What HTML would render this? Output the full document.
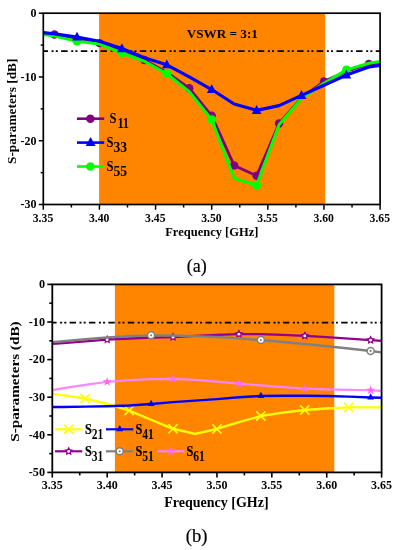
<!DOCTYPE html>
<html><head><meta charset="utf-8"><title>S-parameters</title>
<style>html,body{margin:0;padding:0;background:#fff}svg{display:block}text{font-family:"Liberation Serif",serif;fill:#000}</style>
</head><body>
<svg width="397" height="550" viewBox="0 0 397 550">
<rect x="0" y="0" width="397" height="550" fill="#fff"/>
<rect x="99.1" y="13.2" width="226.1" height="191.3" fill="#ff8400"/>
<line x1="43.3" y1="51.11" x2="380.1" y2="51.11" stroke="#000" stroke-width="1.7" stroke-dasharray="6.5 3.6 2 2.2 2 3.36" stroke-dashoffset="1.8"/>
<polyline points="43.3,32.91 54.53,34.5 76.98,38.33 99.43,43.11 121.89,50.44 144.34,60.01 166.79,72.44 189.25,88.25 211.7,115.8 234.15,165.41 256.61,175.74 279.06,123.45 301.51,97.95 323.97,81.37 346.42,71.48 368.87,64.02 380.1,63.39" fill="none" stroke="#800080" stroke-width="2.8" stroke-linejoin="round"/>
<circle cx="54.53" cy="34.5" r="4.2" fill="#800080"/>
<circle cx="99.43" cy="43.11" r="4.2" fill="#800080"/>
<circle cx="144.34" cy="60.01" r="4.2" fill="#800080"/>
<circle cx="189.25" cy="88.25" r="4.2" fill="#800080"/>
<circle cx="211.7" cy="115.8" r="4.2" fill="#800080"/>
<circle cx="234.15" cy="165.41" r="4.2" fill="#800080"/>
<circle cx="256.61" cy="175.74" r="4.2" fill="#800080"/>
<circle cx="279.06" cy="123.45" r="4.2" fill="#800080"/>
<circle cx="323.97" cy="81.37" r="4.2" fill="#800080"/>
<circle cx="368.87" cy="64.02" r="4.2" fill="#800080"/>
<polyline points="43.3,34.5 54.53,36.09 76.98,41.2 99.43,44.06 121.89,52.99 144.34,61.28 166.79,73.72 189.25,91.57 211.7,119.63 234.15,178.42 256.61,185.31 279.06,124.73 301.51,98.59 323.97,83.28 346.42,69.89 368.87,63.19 380.1,61.6" fill="none" stroke="#00ff00" stroke-width="3.0" stroke-linejoin="round"/>
<circle cx="76.98" cy="41.2" r="4.4" fill="#00ff00"/>
<circle cx="121.89" cy="52.99" r="4.4" fill="#00ff00"/>
<circle cx="166.79" cy="73.72" r="4.4" fill="#00ff00"/>
<circle cx="211.7" cy="119.63" r="4.4" fill="#00ff00"/>
<circle cx="256.61" cy="185.31" r="4.4" fill="#00ff00"/>
<circle cx="346.42" cy="69.89" r="4.4" fill="#00ff00"/>
<polyline points="43.3,32.59 54.53,33.86 76.98,37.05 99.43,41.2 121.89,48.59 144.34,57.77 166.79,64.79 189.25,76.9 211.7,89.53 234.15,104.01 256.61,110.38 279.06,105.6 301.51,95.4 323.97,85.19 346.42,74.99 368.87,67.02 380.1,65.43" fill="none" stroke="#0000ff" stroke-width="3.2" stroke-linejoin="round"/>
<polygon points="76.98,31.72 72.18,40.6 81.78,40.6" fill="#0000ff"/>
<polygon points="121.89,43.26 117.09,52.14 126.69,52.14" fill="#0000ff"/>
<polygon points="166.79,59.46 161.99,68.34 171.59,68.34" fill="#0000ff"/>
<polygon points="211.7,84.2 206.9,93.08 216.5,93.08" fill="#0000ff"/>
<polygon points="256.61,105.05 251.81,113.93 261.41,113.93" fill="#0000ff"/>
<polygon points="301.51,90.07 296.71,98.95 306.31,98.95" fill="#0000ff"/>
<polygon points="346.42,69.66 341.62,78.54 351.22,78.54" fill="#0000ff"/>
<rect x="43.3" y="13.2" width="336.8" height="191.3" fill="none" stroke="#000" stroke-width="1.7"/>
<line x1="43.3" y1="204.5" x2="43.3" y2="209.7" stroke="#000" stroke-width="1.5"/>
<line x1="71.37" y1="204.5" x2="71.37" y2="207.5" stroke="#000" stroke-width="1.5"/>
<line x1="99.43" y1="204.5" x2="99.43" y2="209.7" stroke="#000" stroke-width="1.5"/>
<line x1="127.5" y1="204.5" x2="127.5" y2="207.5" stroke="#000" stroke-width="1.5"/>
<line x1="155.57" y1="204.5" x2="155.57" y2="209.7" stroke="#000" stroke-width="1.5"/>
<line x1="183.63" y1="204.5" x2="183.63" y2="207.5" stroke="#000" stroke-width="1.5"/>
<line x1="211.7" y1="204.5" x2="211.7" y2="209.7" stroke="#000" stroke-width="1.5"/>
<line x1="239.77" y1="204.5" x2="239.77" y2="207.5" stroke="#000" stroke-width="1.5"/>
<line x1="267.83" y1="204.5" x2="267.83" y2="209.7" stroke="#000" stroke-width="1.5"/>
<line x1="295.9" y1="204.5" x2="295.9" y2="207.5" stroke="#000" stroke-width="1.5"/>
<line x1="323.97" y1="204.5" x2="323.97" y2="209.7" stroke="#000" stroke-width="1.5"/>
<line x1="352.03" y1="204.5" x2="352.03" y2="207.5" stroke="#000" stroke-width="1.5"/>
<line x1="380.1" y1="204.5" x2="380.1" y2="209.7" stroke="#000" stroke-width="1.5"/>
<line x1="38.8" y1="13.2" x2="43.3" y2="13.2" stroke="#000" stroke-width="1.5"/>
<line x1="40.7" y1="45.08" x2="43.3" y2="45.08" stroke="#000" stroke-width="1.5"/>
<line x1="38.8" y1="76.97" x2="43.3" y2="76.97" stroke="#000" stroke-width="1.5"/>
<line x1="40.7" y1="108.85" x2="43.3" y2="108.85" stroke="#000" stroke-width="1.5"/>
<line x1="38.8" y1="140.73" x2="43.3" y2="140.73" stroke="#000" stroke-width="1.5"/>
<line x1="40.7" y1="172.62" x2="43.3" y2="172.62" stroke="#000" stroke-width="1.5"/>
<line x1="38.8" y1="204.5" x2="43.3" y2="204.5" stroke="#000" stroke-width="1.5"/>
<text transform="translate(43,221.8) scale(1,1.08)" font-size="11.7" text-anchor="middle" font-weight="bold">3.35</text>
<text transform="translate(99.13,221.8) scale(1,1.08)" font-size="11.7" text-anchor="middle" font-weight="bold">3.40</text>
<text transform="translate(155.27,221.8) scale(1,1.08)" font-size="11.7" text-anchor="middle" font-weight="bold">3.45</text>
<text transform="translate(211.4,221.8) scale(1,1.08)" font-size="11.7" text-anchor="middle" font-weight="bold">3.50</text>
<text transform="translate(267.53,221.8) scale(1,1.08)" font-size="11.7" text-anchor="middle" font-weight="bold">3.55</text>
<text transform="translate(323.67,221.8) scale(1,1.08)" font-size="11.7" text-anchor="middle" font-weight="bold">3.60</text>
<text transform="translate(379.8,221.8) scale(1,1.08)" font-size="11.7" text-anchor="middle" font-weight="bold">3.65</text>
<text x="36.4" y="17.1" font-size="12" text-anchor="end" font-weight="bold">0</text>
<text x="36.4" y="80.87" font-size="12" text-anchor="end" font-weight="bold">-10</text>
<text x="36.4" y="144.63" font-size="12" text-anchor="end" font-weight="bold">-20</text>
<text x="36.4" y="208.4" font-size="12" text-anchor="end" font-weight="bold">-30</text>
<text x="211.8" y="236.4" font-size="12.5" text-anchor="middle" font-weight="bold">Frequency [GHz]</text>
<text transform="translate(16.4,111.3) rotate(-90) scale(1.065,1)" font-size="12.5" text-anchor="middle" font-weight="bold">S-parameters [dB]</text>
<text x="222.3" y="38.3" font-size="13.2" text-anchor="middle" font-weight="bold">VSWR = 3:1</text>
<line x1="77" y1="118.7" x2="104.2" y2="118.7" stroke="#800080" stroke-width="2.6"/>
<circle cx="90.4" cy="118.7" r="4.3" fill="#800080"/>
<text transform="translate(109.4,123) scale(0.84,1)" font-size="15" font-weight="bold">S</text>
<text transform="translate(117.4,128.4) scale(0.88,1)" font-size="14" font-weight="bold">11</text>
<line x1="77" y1="142.6" x2="104.2" y2="142.6" stroke="#0000ff" stroke-width="2.6"/>
<polygon points="90.6,136.96 85.7,146.03 95.5,146.03" fill="#0000ff"/>
<text transform="translate(106.6,146.9) scale(0.84,1)" font-size="15" font-weight="bold">S</text>
<text transform="translate(113.4,152.3) scale(0.97,1)" font-size="14" font-weight="bold">33</text>
<line x1="77" y1="166.5" x2="104.2" y2="166.5" stroke="#00ff00" stroke-width="2.6"/>
<circle cx="90.4" cy="166.5" r="4.3" fill="#00ff00"/>
<text transform="translate(106.6,170.8) scale(0.84,1)" font-size="15" font-weight="bold">S</text>
<text transform="translate(113.4,176.2) scale(0.97,1)" font-size="14" font-weight="bold">55</text>
<text x="196.7" y="271.8" font-size="18" text-anchor="middle" font-weight="normal" stroke="#000" stroke-width="0.2">(a)</text>
<rect x="114.9" y="284.4" width="219.4" height="188" fill="#ff8400"/>
<line x1="52.3" y1="322.7" x2="381.6" y2="322.7" stroke="#000" stroke-width="1.7" stroke-dasharray="6.4 3.5 2 2.2 2 3.3" stroke-dashoffset="2.1"/>
<polyline points="52.3,393.82 63.28,395.32 85.23,398.52 107.18,403.97 129.14,410.59 151.09,419.76 173.04,428.78 195,433.86 216.95,428.97 238.9,422.2 260.86,416 282.81,412.62 304.76,409.98 326.72,408.48 348.67,407.35 370.62,407.35 381.6,407.35" fill="none" stroke="#ffff00" stroke-width="2.4" stroke-linejoin="round"/>
<path d="M80.63 393.92 L89.83 403.12 M80.63 403.12 L89.83 393.92" stroke="#ffff00" stroke-width="1.6" fill="none"/>
<path d="M124.54 405.99 L133.74 415.19 M124.54 415.19 L133.74 405.99" stroke="#ffff00" stroke-width="1.6" fill="none"/>
<path d="M168.44 424.18 L177.64 433.38 M168.44 433.38 L177.64 424.18" stroke="#ffff00" stroke-width="1.6" fill="none"/>
<path d="M212.35 424.37 L221.55 433.57 M212.35 433.57 L221.55 424.37" stroke="#ffff00" stroke-width="1.6" fill="none"/>
<path d="M256.26 411.4 L265.46 420.6 M256.26 420.6 L265.46 411.4" stroke="#ffff00" stroke-width="1.6" fill="none"/>
<path d="M300.16 405.38 L309.36 414.58 M300.16 414.58 L309.36 405.38" stroke="#ffff00" stroke-width="1.6" fill="none"/>
<path d="M344.07 402.75 L353.27 411.95 M344.07 411.95 L353.27 402.75" stroke="#ffff00" stroke-width="1.6" fill="none"/>
<polyline points="52.3,406.98 63.28,406.98 85.23,406.6 107.18,406.22 129.14,405.47 151.09,403.97 173.04,402.09 195,400.58 216.95,399.08 238.9,397.2 260.86,396.07 282.81,395.7 304.76,395.7 326.72,396.07 348.67,396.64 370.62,397.43 381.6,397.76" fill="none" stroke="#0000ff" stroke-width="2.4" stroke-linejoin="round"/>
<polygon points="151.09,399.69 147.69,405.98 154.49,405.98" fill="#0000ff"/>
<polygon points="260.86,391.8 257.46,398.09 264.26,398.09" fill="#0000ff"/>
<polygon points="370.62,393.15 367.22,399.44 374.02,399.44" fill="#0000ff"/>
<polyline points="52.3,343.81 63.28,343.06 85.23,341.36 107.18,339.67 129.14,338.54 151.09,337.6 173.04,337.04 195,335.91 216.95,334.78 238.9,334.03 260.86,334.22 282.81,334.78 304.76,335.8 326.72,337.04 348.67,338.54 370.62,340.05 381.6,340.8" fill="none" stroke="#900090" stroke-width="2.2" stroke-linejoin="round"/>
<polygon points="107.18,334.87 108.59,337.73 111.75,338.19 109.47,340.41 110,343.56 107.18,342.07 104.36,343.56 104.9,340.41 102.62,338.19 105.77,337.73" fill="#900090"/><circle cx="107.18" cy="339.77" r="1.45" fill="#fff"/>
<polygon points="173.04,332.24 174.45,335.1 177.61,335.56 175.33,337.78 175.86,340.92 173.04,339.44 170.22,340.92 170.76,337.78 168.48,335.56 171.63,335.1" fill="#900090"/><circle cx="173.04" cy="337.14" r="1.45" fill="#fff"/>
<polygon points="238.9,329.23 240.31,332.09 243.47,332.55 241.19,334.77 241.72,337.92 238.9,336.43 236.08,337.92 236.62,334.77 234.34,332.55 237.49,332.09" fill="#900090"/><circle cx="238.9" cy="334.13" r="1.45" fill="#fff"/>
<polygon points="304.76,331 306.17,333.86 309.33,334.32 307.05,336.54 307.58,339.68 304.76,338.2 301.94,339.68 302.48,336.54 300.2,334.32 303.35,333.86" fill="#900090"/><circle cx="304.76" cy="335.9" r="1.45" fill="#fff"/>
<polygon points="370.62,335.25 372.03,338.11 375.19,338.56 372.91,340.79 373.44,343.93 370.62,342.45 367.8,343.93 368.34,340.79 366.06,338.56 369.21,338.11" fill="#900090"/><circle cx="370.62" cy="340.15" r="1.45" fill="#fff"/>
<polyline points="52.3,342.12 63.28,341.18 85.23,339.3 107.18,337.42 129.14,336.1 151.09,335.35 173.04,335.54 195,336.1 216.95,337.04 238.9,338.36 260.86,340.05 282.81,341.93 304.76,344 326.72,346.25 348.67,348.51 370.62,350.95 381.6,352.34" fill="none" stroke="#808080" stroke-width="2.4" stroke-linejoin="round"/>
<circle cx="151.09" cy="335.35" r="3.5" fill="#fff" stroke="#808080" stroke-width="1.5"/><circle cx="151.09" cy="335.35" r="1.1" fill="#808080"/>
<circle cx="260.86" cy="340.05" r="3.5" fill="#fff" stroke="#808080" stroke-width="1.5"/><circle cx="260.86" cy="340.05" r="1.1" fill="#808080"/>
<circle cx="370.62" cy="350.95" r="3.5" fill="#fff" stroke="#808080" stroke-width="1.5"/><circle cx="370.62" cy="350.95" r="1.1" fill="#808080"/>
<polyline points="52.3,390.06 63.28,388.18 85.23,384.79 107.18,381.78 129.14,380.09 151.09,379.15 173.04,378.78 195,379.9 216.95,381.6 238.9,383.66 260.86,385.36 282.81,387.05 304.76,388.55 326.72,389.3 348.67,389.87 370.62,390.24 381.6,390.81" fill="none" stroke="#ff86ff" stroke-width="2.2" stroke-linejoin="round"/>
<polygon points="107.18,376.88 108.34,380.2 111.84,380.27 109.05,382.39 110.06,385.75 107.18,383.74 104.3,385.75 105.32,382.39 102.52,380.27 106.03,380.2" fill="#ff6af8"/>
<polygon points="173.04,373.88 174.2,377.19 177.7,377.26 174.91,379.38 175.92,382.74 173.04,380.74 170.16,382.74 171.18,379.38 168.38,377.26 171.89,377.19" fill="#ff6af8"/>
<polygon points="238.9,378.76 240.06,382.08 243.56,382.15 240.77,384.27 241.78,387.63 238.9,385.62 236.02,387.63 237.04,384.27 234.24,382.15 237.75,382.08" fill="#ff6af8"/>
<polygon points="304.76,383.65 305.92,386.97 309.42,387.04 306.63,389.16 307.64,392.52 304.76,390.51 301.88,392.52 302.9,389.16 300.1,387.04 303.61,386.97" fill="#ff6af8"/>
<polygon points="370.62,385.34 371.78,388.66 375.28,388.73 372.49,390.85 373.5,394.21 370.62,392.2 367.74,394.21 368.76,390.85 365.96,388.73 369.47,388.66" fill="#ff6af8"/>
<rect x="52.3" y="284.4" width="329.3" height="188" fill="none" stroke="#000" stroke-width="1.8"/>
<line x1="52.3" y1="472.4" x2="52.3" y2="477.6" stroke="#000" stroke-width="1.6"/>
<line x1="79.74" y1="472.4" x2="79.74" y2="475.4" stroke="#000" stroke-width="1.6"/>
<line x1="107.18" y1="472.4" x2="107.18" y2="477.6" stroke="#000" stroke-width="1.6"/>
<line x1="134.63" y1="472.4" x2="134.63" y2="475.4" stroke="#000" stroke-width="1.6"/>
<line x1="162.07" y1="472.4" x2="162.07" y2="477.6" stroke="#000" stroke-width="1.6"/>
<line x1="189.51" y1="472.4" x2="189.51" y2="475.4" stroke="#000" stroke-width="1.6"/>
<line x1="216.95" y1="472.4" x2="216.95" y2="477.6" stroke="#000" stroke-width="1.6"/>
<line x1="244.39" y1="472.4" x2="244.39" y2="475.4" stroke="#000" stroke-width="1.6"/>
<line x1="271.83" y1="472.4" x2="271.83" y2="477.6" stroke="#000" stroke-width="1.6"/>
<line x1="299.28" y1="472.4" x2="299.28" y2="475.4" stroke="#000" stroke-width="1.6"/>
<line x1="326.72" y1="472.4" x2="326.72" y2="477.6" stroke="#000" stroke-width="1.6"/>
<line x1="354.16" y1="472.4" x2="354.16" y2="475.4" stroke="#000" stroke-width="1.6"/>
<line x1="381.6" y1="472.4" x2="381.6" y2="477.6" stroke="#000" stroke-width="1.6"/>
<line x1="47.3" y1="284.4" x2="52.3" y2="284.4" stroke="#000" stroke-width="1.6"/>
<line x1="49.3" y1="303.2" x2="52.3" y2="303.2" stroke="#000" stroke-width="1.6"/>
<line x1="47.3" y1="322" x2="52.3" y2="322" stroke="#000" stroke-width="1.6"/>
<line x1="49.3" y1="340.8" x2="52.3" y2="340.8" stroke="#000" stroke-width="1.6"/>
<line x1="47.3" y1="359.6" x2="52.3" y2="359.6" stroke="#000" stroke-width="1.6"/>
<line x1="49.3" y1="378.4" x2="52.3" y2="378.4" stroke="#000" stroke-width="1.6"/>
<line x1="47.3" y1="397.2" x2="52.3" y2="397.2" stroke="#000" stroke-width="1.6"/>
<line x1="49.3" y1="416" x2="52.3" y2="416" stroke="#000" stroke-width="1.6"/>
<line x1="47.3" y1="434.8" x2="52.3" y2="434.8" stroke="#000" stroke-width="1.6"/>
<line x1="49.3" y1="453.6" x2="52.3" y2="453.6" stroke="#000" stroke-width="1.6"/>
<line x1="47.3" y1="472.4" x2="52.3" y2="472.4" stroke="#000" stroke-width="1.6"/>
<text transform="translate(52.3,488.8) scale(1,1.07)" font-size="12" text-anchor="middle" font-weight="bold">3.35</text>
<text transform="translate(107.18,488.8) scale(1,1.07)" font-size="12" text-anchor="middle" font-weight="bold">3.40</text>
<text transform="translate(162.07,488.8) scale(1,1.07)" font-size="12" text-anchor="middle" font-weight="bold">3.45</text>
<text transform="translate(216.95,488.8) scale(1,1.07)" font-size="12" text-anchor="middle" font-weight="bold">3.50</text>
<text transform="translate(271.83,488.8) scale(1,1.07)" font-size="12" text-anchor="middle" font-weight="bold">3.55</text>
<text transform="translate(326.72,488.8) scale(1,1.07)" font-size="12" text-anchor="middle" font-weight="bold">3.60</text>
<text transform="translate(381.6,488.8) scale(1,1.07)" font-size="12" text-anchor="middle" font-weight="bold">3.65</text>
<text x="45" y="288.1" font-size="12.2" text-anchor="end" font-weight="bold">0</text>
<text x="45" y="325.7" font-size="12.2" text-anchor="end" font-weight="bold">-10</text>
<text x="45" y="363.3" font-size="12.2" text-anchor="end" font-weight="bold">-20</text>
<text x="45" y="400.9" font-size="12.2" text-anchor="end" font-weight="bold">-30</text>
<text x="45" y="438.5" font-size="12.2" text-anchor="end" font-weight="bold">-40</text>
<text x="45" y="476.1" font-size="12.2" text-anchor="end" font-weight="bold">-50</text>
<text x="216.4" y="507.4" font-size="14.0" text-anchor="middle" font-weight="bold">Frequency [GHz]</text>
<text transform="translate(18.6,381.6) rotate(-90) scale(1.19,1)" font-size="12.8" text-anchor="middle" font-weight="bold">S-parameters (dB)</text>
<line x1="55" y1="429.3" x2="82.3" y2="429.3" stroke="#ffff00" stroke-width="2.2"/>
<path d="M64.1 424.7 L73.3 433.9 M64.1 433.9 L73.3 424.7" stroke="#ffff00" stroke-width="1.6" fill="none"/>
<text transform="translate(84.9,433.6) scale(0.88,1)" font-size="14" font-weight="bold" stroke="#000" stroke-width="0.25">S</text>
<text transform="translate(91.7,438.5) scale(0.8,1)" font-size="14.4" font-weight="bold">21</text>
<line x1="106" y1="429.3" x2="133.3" y2="429.3" stroke="#0000ff" stroke-width="2.2"/>
<polygon points="119.7,425.03 116.3,431.32 123.1,431.32" fill="#0000ff"/>
<text transform="translate(135.5,433.6) scale(0.88,1)" font-size="14" font-weight="bold" stroke="#000" stroke-width="0.25">S</text>
<text transform="translate(142.3,438.5) scale(0.8,1)" font-size="14.4" font-weight="bold">41</text>
<line x1="55" y1="451.3" x2="82.3" y2="451.3" stroke="#900090" stroke-width="2.2"/>
<polygon points="68.7,446.5 70.11,449.36 73.27,449.82 70.98,452.04 71.52,455.18 68.7,453.7 65.88,455.18 66.42,452.04 64.13,449.82 67.29,449.36" fill="#900090"/><circle cx="68.7" cy="451.4" r="1.45" fill="#fff"/>
<text transform="translate(84.9,455.6) scale(0.88,1)" font-size="14" font-weight="bold" stroke="#000" stroke-width="0.25">S</text>
<text transform="translate(91.7,460.5) scale(0.8,1)" font-size="14.4" font-weight="bold">31</text>
<line x1="106" y1="451.3" x2="133.3" y2="451.3" stroke="#808080" stroke-width="2.2"/>
<circle cx="119.7" cy="451.3" r="3.5" fill="#fff" stroke="#808080" stroke-width="1.5"/><circle cx="119.7" cy="451.3" r="1.1" fill="#808080"/>
<text transform="translate(135.5,455.6) scale(0.88,1)" font-size="14" font-weight="bold" stroke="#000" stroke-width="0.25">S</text>
<text transform="translate(142.3,460.5) scale(0.8,1)" font-size="14.4" font-weight="bold">51</text>
<line x1="157.2" y1="451.3" x2="184.5" y2="451.3" stroke="#ff86ff" stroke-width="2.2"/>
<polygon points="170.9,446.4 172.05,449.71 175.56,449.79 172.76,451.91 173.78,455.26 170.9,453.26 168.02,455.26 169.04,451.91 166.24,449.79 169.75,449.71" fill="#ff6af8"/>
<text transform="translate(186.5,455.6) scale(0.88,1)" font-size="14" font-weight="bold" stroke="#000" stroke-width="0.25">S</text>
<text transform="translate(193.3,460.5) scale(0.8,1)" font-size="14.4" font-weight="bold">61</text>
<text x="196.7" y="542.2" font-size="18.6" text-anchor="middle" font-weight="normal" stroke="#000" stroke-width="0.2">(b)</text>
</svg>
</body></html>
